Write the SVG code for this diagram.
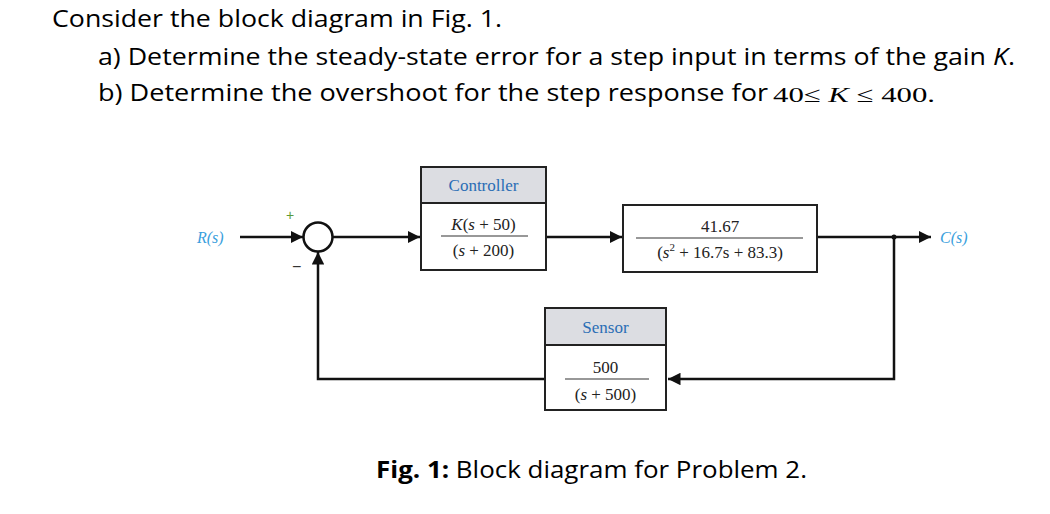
<svg xmlns="http://www.w3.org/2000/svg" width="1050" height="514" viewBox="0 0 1050 514">
<defs>
<style>
.q{font-family:"Open Sans","Liberation Sans",sans-serif;font-size:23px;fill:#000}
.m{font-family:"Liberation Serif",serif;font-size:17px;fill:#222}
.h{font-family:"Liberation Serif",serif;font-size:17px;fill:#2a6db5}
.sig{font-family:"Liberation Serif",serif;font-size:16px;fill:#3aa0dd;font-style:italic}
.box{fill:#fff;stroke:#222;stroke-width:2}
.hd{fill:#dcdde2;stroke:#222;stroke-width:2}
.ln{fill:none;stroke:#111;stroke-width:2.5}
</style>
<marker id="a" viewBox="0 0 10 10" refX="10" refY="5" markerWidth="5" markerHeight="5" orient="auto"><path d="M0,0L10,5L0,10z" fill="#111"/></marker>
</defs>
<rect width="1050" height="514" fill="#fff"/>
<text class="q" x="52" y="27" textLength="450" lengthAdjust="spacingAndGlyphs">Consider the block diagram in Fig. 1.</text>
<text class="q" x="98" y="65" textLength="917" lengthAdjust="spacingAndGlyphs">a)  Determine the steady-state error for a step input in terms of the gain <tspan font-style="italic">K</tspan>.</text>
<text class="q" x="98" y="101" textLength="670" lengthAdjust="spacingAndGlyphs">b)  Determine the overshoot for the step response for</text>
<text x="773" y="102" font-family="Liberation Serif,serif" font-size="22" textLength="162" lengthAdjust="spacingAndGlyphs">40≤ <tspan font-style="italic">K</tspan> ≤ 400.</text>
<g id="connectors">
<path class="ln" d="M240,237H303" marker-end="url(#a)"/>
<path class="ln" d="M332,237H420" marker-end="url(#a)"/>
<path class="ln" d="M546,237H622" marker-end="url(#a)"/>
<path class="ln" d="M817,237H931" marker-end="url(#a)"/>
<path class="ln" d="M894,237V379H668" marker-end="url(#a)"/>
<path class="ln" d="M545,379H318V252" marker-end="url(#a)"/>
<circle cx="894" cy="237" r="2.5" fill="#111"/>
</g>
<g id="R"><text class="sig" x="197" y="243">R(s)</text></g>
<g id="C"><text class="sig" x="940" y="243">C(s)</text></g>
<g id="sum">
<circle cx="318" cy="237" r="14.5" fill="#fff" stroke="#111" stroke-width="2.5"/>
<text x="286" y="220" font-family="Liberation Sans,sans-serif" font-size="14" fill="#5a9a3a">+</text>
<text x="292" y="272" font-family="Liberation Sans,sans-serif" font-size="16" fill="#333">−</text>
</g>
<g id="controller">
<rect class="hd" x="421" y="167" width="125" height="36"/>
<rect class="box" x="421" y="203" width="125" height="67"/>
<text class="h" x="483.5" y="191" text-anchor="middle">Controller</text>
<text class="m" x="483.5" y="230" text-anchor="middle"><tspan font-style="italic">K</tspan>(<tspan font-style="italic">s</tspan> + 50)</text>
<line x1="441" y1="236" x2="528" y2="236" stroke="#333" stroke-width="1.2"/>
<text class="m" x="483.5" y="256" text-anchor="middle">(<tspan font-style="italic">s</tspan> + 200)</text>
</g>
<g id="plant">
<rect class="box" x="623" y="205" width="194" height="67"/>
<text class="m" x="720" y="232" text-anchor="middle">41.67</text>
<line x1="636" y1="238" x2="803" y2="238" stroke="#333" stroke-width="1.2"/>
<text class="m" x="720" y="258" text-anchor="middle">(<tspan font-style="italic">s</tspan><tspan dy="-7" font-size="11">2</tspan><tspan dy="7"> + 16.7s + 83.3)</tspan></text>
</g>
<g id="sensor">
<rect class="hd" x="545" y="308" width="121" height="37"/>
<rect class="box" x="545" y="345" width="121" height="65"/>
<text class="h" x="605.5" y="333" text-anchor="middle">Sensor</text>
<text class="m" x="605.5" y="373" text-anchor="middle">500</text>
<line x1="565" y1="379" x2="649" y2="379" stroke="#333" stroke-width="1.2"/>
<text class="m" x="605.5" y="400" text-anchor="middle">(<tspan font-style="italic">s</tspan> + 500)</text>
</g>
<text class="q" x="376" y="478" textLength="431" lengthAdjust="spacingAndGlyphs"><tspan font-weight="bold">Fig. 1:</tspan> Block diagram for Problem 2.</text>
</svg>
